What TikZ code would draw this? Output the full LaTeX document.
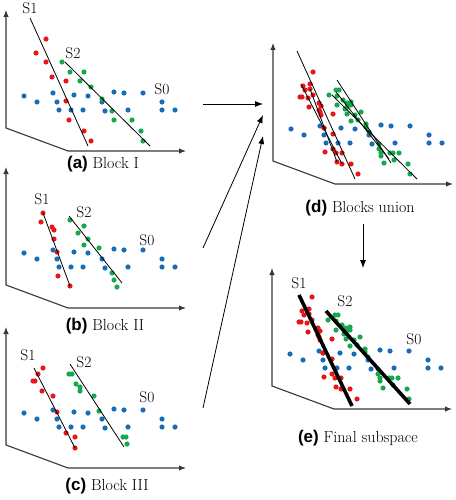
\documentclass[tikz,border=0pt]{standalone}
\usepackage{fontspec}
\usepackage{tikz}
\usetikzlibrary{arrows.meta, positioning}
\newfontfamily\tagfont{Liberation Sans}
\definecolor{PtRed}  {RGB}{232,  22,  22}
\definecolor{PtGreen}{RGB}{ 22, 168,  78}
\definecolor{PtBlue} {RGB}{ 24, 108, 186}
\definecolor{AxGray} {RGB}{ 55,  55,  55}

\tikzset{
  axis/.style    = {draw=AxGray, line width=1.1pt,
                    {Latex[length=7pt, width=5.5pt]}-{Latex[length=7pt, width=5.5pt]}},
  subline/.style = {draw=black, line width=0.8pt},
  finline/.style = {draw=black, line width=3.6pt},
  flow/.style    = {draw=black, line width=0.8pt, -{Latex[length=8pt, width=6pt]}},
  slabel/.style  = {font=\fontsize{15.5}{18}\selectfont, inner sep=0pt},
  caption/.style = {font=\fontsize{16}{19}\selectfont, inner sep=0pt}
}

% point sets, in the frame of panel (a)
\def\blueset{24/96, 37/102, 53/93, 57/102, 59/110, 71/110, 74/95, 83/110, 88/96,
  102/102, 105/111, 114/92, 124/93, 128/110, 143/93, 162/102, 162/110, 175/110}
\def\redA{46/39, 36/53, 46/62, 52/77, 66/81, 66/101, 69/120, 84/131, 91/141}
\def\greenA{62/62, 70/72, 84/72, 80/81, 91/87, 102/99, 112/111, 114/120,
  132/120, 141/131, 143/141}
\def\redB{43/56, 41/65, 52/70, 54/73, 54/82, 57/95, 58/119, 70/129}
\def\greenB{70/63, 84/69, 78/76, 88/82, 84/88, 99/91, 112/116, 114/123, 117/130}
\def\redC{43/51, 38/57, 33/64, 35/64, 42/74, 53/79, 57/95, 66/116, 75/120, 75/131}
\def\greenC{69/57, 72/57, 76/67, 80/70, 80/74, 94/79, 99/94, 123/120, 126/120, 127/127}

\newcommand\cloud[2]{\foreach \px/\py in #2 {\fill[#1] (\px,\py) circle (2.6pt);}}
\newcommand\plotaxes{\draw[axis] (6,10) -- (6,128) -- (68,151) -- (186,151);}
\newcommand\captag[1]{{\tagfont\bfseries\fontsize{17}{19}\selectfont #1}}

\begin{document}
\begin{tikzpicture}[x=1pt, y=-1pt]
  \useasboundingbox (0,0) rectangle (455,500);

  % (a) Block I
  \begin{scope}
    \plotaxes
    \cloud{PtBlue}{\blueset}
    \cloud{PtRed}{\redA}
    \cloud{PtGreen}{\greenA}
    \draw[subline] (30,18) -- (88,146);
    \draw[subline] (65,62) -- (150,146);
    \node[slabel] (s1a) at (30,8) {S1};
    \node[slabel] (s2a) at (73,53) {S2};
    \node[slabel] (s0a) at (162,89) {S0};
  \end{scope}
  \node[caption] (capA) at (103,164) {\captag{(a)} Block I};

  % (b) Block II
  \begin{scope}[shift={(0,157)}]
    \plotaxes
    \cloud{PtBlue}{\blueset}
    \cloud{PtRed}{\redB}
    \cloud{PtGreen}{\greenB}
    \draw[subline] (43,56) -- (70,129);
    \draw[subline] (69,59) -- (122,126);
    \node[slabel] (s1b) at (42,42) {S1};
    \node[slabel] (s2b) at (84,55) {S2};
    \node[slabel] (s0b) at (147,83) {S0};
  \end{scope}
  \node[caption] (capB) at (105,326) {\captag{(b)} Block II};

  % (c) Block III
  \begin{scope}[shift={(0,317)}]
    \plotaxes
    \cloud{PtBlue}{\blueset}
    \cloud{PtRed}{\redC}
    \cloud{PtGreen}{\greenC}
    \draw[subline] (34,51) -- (75,131);
    \draw[subline] (70,47) -- (124,130);
    \node[slabel] (s1c) at (28,38) {S1};
    \node[slabel] (s2c) at (84,45) {S2};
    \node[slabel] (s0c) at (147,80) {S0};
  \end{scope}
  \node[caption] (capC) at (107,486) {\captag{(c)} Block III};

  % (d) Blocks union
  \begin{scope}[shift={(267,33)}]
    \plotaxes
    \cloud{PtBlue}{\blueset}
    \cloud{PtRed}{\redA}
    \cloud{PtRed}{\redB}
    \cloud{PtRed}{\redC}
    \cloud{PtGreen}{\greenA}
    \cloud{PtGreen}{\greenB}
    \cloud{PtGreen}{\greenC}
    \draw[subline] (30,18) -- (88,146);
    \draw[subline] (65,62) -- (150,146);
    \draw[subline] (43,56) -- (70,129);
    \draw[subline] (69,59) -- (122,126);
    \draw[subline] (34,51) -- (75,131);
    \draw[subline] (70,47) -- (124,130);
  \end{scope}
  \node[caption] (capD) at (360,208) {\captag{(d)} Blocks union};

  % (e) Final subspace
  \begin{scope}[shift={(266,258)}]
    \plotaxes
    \cloud{PtBlue}{\blueset}
    \cloud{PtRed}{\redA}
    \cloud{PtRed}{\redB}
    \cloud{PtRed}{\redC}
    \cloud{PtGreen}{\greenA}
    \cloud{PtGreen}{\greenB}
    \cloud{PtGreen}{\greenC}
    \draw[finline] (33,37) -- (86,148);
    \draw[finline] (60,53) -- (144,146);
    \node[slabel] (s1e) at (33,25) {S1};
    \node[slabel] (s2e) at (79,43) {S2};
    \node[slabel] (s0e) at (148,81) {S0};
  \end{scope}
  \node[caption] (capE) at (358,438) {\captag{(e)} Final subspace};

  % arrows between panels
  \coordinate (fromA) at (203,104);
  \coordinate (fromB) at (203,248);
  \coordinate (fromC) at (203,408);
  \coordinate (intoA) at (263,104);
  \coordinate (intoB) at (263,115);
  \coordinate (intoC) at (263,136);
  \coordinate (fromD) at (363,224);
  \coordinate (intoE) at (363,268);
  \draw[flow] (fromA) -- (intoA);
  \draw[flow] (fromB) -- (intoB);
  \draw[flow] (fromC) -- (intoC);
  \draw[flow] (fromD) -- (intoE);
\end{tikzpicture}
\end{document}
